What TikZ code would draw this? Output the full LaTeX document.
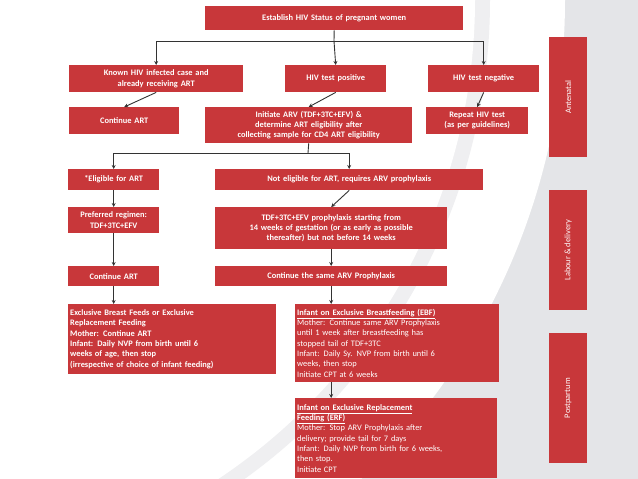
\documentclass[tikz,border=0pt]{standalone}
\usepackage{fontspec}
\setmainfont{Carlito}
\usetikzlibrary{arrows.meta}
\definecolor{hivred}{HTML}{C8373A}
\definecolor{bggray}{HTML}{E4E5E8}
\tikzset{
  x=1pt,y=-1pt,
  rbox/.style={fill=hivred,text=white,font=\fontsize{8.4}{10.3}\selectfont\bfseries,inner sep=2pt,align=center},
  lbox/.style={rbox,align=left},
  tbox/.style={rbox,font=\fontsize{8.4}{10.3}\selectfont,align=left},
  conn/.style={draw=black!80,line width=0.9pt,-{Stealth[length=4pt,width=4pt]}},
  line/.style={draw=black!80,line width=0.9pt},
  side/.style={text=white,font=\fontsize{8.4}{9}\selectfont,rotate=90},
}
\newcommand{\bx}[7][rbox]{%
  \node[#1,minimum width={(#5)-(#3)},minimum height={(#6)-(#4)},text width={(#5)-(#3)-4},anchor=north west] (#2) at (#3,#4) {#7};}
\begin{document}
\begin{tikzpicture}
\fill[bggray] (0,0) rectangle (638,479);
\begin{scope}
\clip (0,0) rectangle (638,479);
\fill[white] (-100,0) circle[radius=665];
\fill[bggray!60] (-100,0) circle[radius=590];
\fill[white] (-100,0) circle[radius=575];
\end{scope}
\useasboundingbox (0,0) rectangle (638,479);
\bx{top}{205}{6}{463}{30}{Establish HIV Status of pregnant women}
\bx{known}{69}{65}{243}{92}{Known HIV infected case and\\already receiving ART}
\bx{pos}{285}{65}{386}{92}{HIV test positive}
\bx{neg}{428}{65}{539}{92}{HIV test negative}
\bx{cont1}{69}{107}{179}{134}{Continue ART}
\bx{init}{205}{107}{412}{143}{Initiate ARV (TDF+3TC+EFV) \&\\*determine ART eligibility after\\collecting sample for CD4 ART eligibility}
\bx{rep}{426}{107}{528}{134}{Repeat HIV test\\(as per guidelines)}
\bx{elig}{68}{169}{159}{190}{*Eligible for ART}
\bx{notel}{215}{169}{483}{190}{Not eligible for ART, requires ARV prophylaxis}
\bx{pref}{68}{207}{159}{233}{Preferred regimen:\\TDF+3TC+EFV}
\bx{tdf}{215}{207}{447}{249}{TDF+3TC+EFV prophylaxis starting from\\14 weeks of gestation (or as early as possible\\thereafter) but not before 14 weeks}
\bx{cont2}{68}{266}{159}{286}{Continue ART}
\bx{same}{215}{266}{447}{286}{Continue the same ARV Prophylaxis}
\bx[lbox]{excl}{68}{304}{276}{374}{Exclusive Breast Feeds or Exclusive\\Replacement Feeding\\Mother: Continue ART\\Infant: Daily NVP from birth until 6\\weeks of age, then stop\\(irrespective of choice of infant feeding)}
\bx[tbox]{ebf}{295}{304}{499}{382}{\textbf{\underline{Infant on Exclusive Breastfeeding (EBF)}}\\Mother: Continue same ARV Prophylaxis\\until 1 week after breastfeeding has\\stopped tail of TDF+3TC\\Infant: Daily Sy. NVP from birth until 6\\weeks, then stop\\Initiate CPT at 6 weeks}
\bx[tbox]{erf}{295}{398}{497}{478}{\textbf{\underline{Infant on Exclusive Replacement}}\\\textbf{\underline{Feeding (ERF)}}\\Mother: Stop ARV Prophylaxis after\\delivery; provide tail for 7 days\\Infant: Daily NVP from birth for 6 weeks,\\then stop.\\Initiate CPT}
\node[fill=hivred,minimum width=38,minimum height=120,anchor=north west] (s1) at (549,37) {};
\node[side] at (s1) {Antenatal};
\node[fill=hivred,minimum width=38,minimum height=120,anchor=north west] (s2) at (549,190) {};
\node[side] at (s2) {Labour \& delivery};
\node[fill=hivred,minimum width=38,minimum height=130,anchor=north west] (s3) at (549,333) {};
\node[side] at (s3) {Postpartum};
% connectors
\coordinate (b1) at (334,41);
\draw[line] (top.south) -- (b1);
\draw[conn] (b1) -| (known.north);
\draw[conn] (b1) -- (pos.north);
\draw[conn] (b1) -| (neg.north);
\draw[conn] (known.south) -- (cont1.north);
\draw[conn] (pos.south) -- (init.north);
\draw[conn] (neg.south) -- (rep.north);
\coordinate (b2) at (308,153);
\draw[line] (init.south) -- (b2);
\draw[conn] (b2) -| (elig.north);
\draw[conn] (b2) -| (notel.north);
\draw[conn] (elig.south) -- (pref.north);
\draw[conn] (pref.south) -- (cont2.north);
\draw[conn] (cont2.south) -- (cont2.south|-excl.north);
\draw[conn] (notel.south) -- (tdf.north);
\draw[conn] (tdf.south) -- (same.north);
\draw[conn] (same.south) -- (same.south|-ebf.north);
\draw[conn] (same.south|-ebf.south) -- (same.south|-erf.north);
\end{tikzpicture}
\end{document}
